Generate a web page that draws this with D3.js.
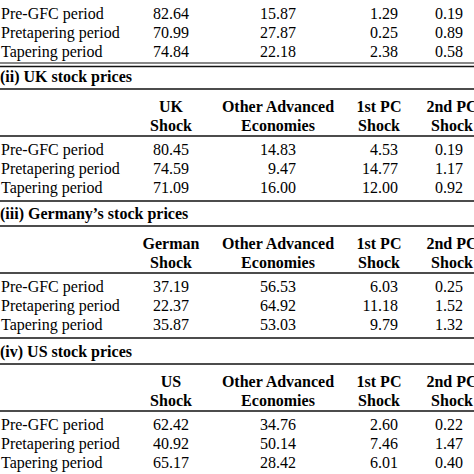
<!DOCTYPE html>
<html><head><meta charset="utf-8">
<script src="https://cdn.jsdelivr.net/npm/d3@7"></script>
<style>body{margin:0;background:#fff}</style>
</head><body>
<script>
// row labels shared by every panel
const periods = ["Pre-GFC period", "Pretapering period", "Tapering period"];

// panel (i) is cut off at the top, only its rows are visible
const topValues = [[82.64, 15.87, 1.29, 0.19], [70.99, 27.87, 0.25, 0.89], [74.84, 22.18, 2.38, 0.58]];

const ukTitle = "(ii) UK stock prices";
const ukHeader = [["UK", "Shock"], ["Other Advanced", "Economies"], ["1st PC", "Shock"], ["2nd PC", "Shock"]];
const ukValues = [[80.45, 14.83, 4.53, 0.19], [74.59, 9.47, 14.77, 1.17], [71.09, 16.00, 12.00, 0.92]];

const deTitle = "(iii) Germany\u2019s stock prices";
const deHeader = [["German", "Shock"], ["Other Advanced", "Economies"], ["1st PC", "Shock"], ["2nd PC", "Shock"]];
const deValues = [[37.19, 56.53, 6.03, 0.25], [22.37, 64.92, 11.18, 1.52], [35.87, 53.03, 9.79, 1.32]];

const usTitle = "(iv) US stock prices";
const usHeader = [["US", "Shock"], ["Other Advanced", "Economies"], ["1st PC", "Shock"], ["2nd PC", "Shock"]];
const usValues = [[62.42, 34.76, 2.60, 0.22], [40.92, 50.14, 7.46, 1.47], [65.17, 28.42, 6.01, 0.40]];

const W = 474, H = 474;
const svg = d3.select("body").append("svg").attr("width", W).attr("height", H)
  .style("font-family", "'Liberation Serif', 'DejaVu Serif', serif");

const headCx = [171, 278, 379, 452];   // header centres
const valRight = [189, 296, 398, 463]; // numbers right-aligned

function hline(y, w) {
  svg.append("line").attr("x1", 0).attr("x2", W).attr("y1", y).attr("y2", y)
    .attr("stroke", "#111").attr("stroke-width", w || 1.6);
}

function rows(values, y0) {
  const ys = d3.scalePoint().domain(d3.range(values.length)).range([y0, y0 + 38]);
  values.forEach((r, i) => {
    svg.append("text").attr("x", 1).attr("y", ys(i)).attr("dy", "0.35em")
      .attr("font-size", 16).text(periods[i]);
    r.forEach((v, j) => {
      svg.append("text").attr("x", valRight[j]).attr("y", ys(i)).attr("dy", "0.35em")
        .attr("text-anchor", "end").attr("font-size", 16).text(v.toFixed(2));
    });
  });
}

function panel(title, header, values, y0) {
  svg.append("text").attr("x", 0).attr("y", y0 + 12).attr("dy", "0.35em")
    .attr("font-size", 16).attr("font-weight", "bold").text(title);
  hline(y0 + 25);
  header.forEach((h, j) => {
    h.forEach((s, k) => {
      svg.append("text").attr("x", headCx[j]).attr("y", y0 + 42 + k * 19).attr("dy", "0.35em")
        .attr("text-anchor", "middle").attr("font-size", 16).attr("font-weight", "bold").text(s);
    });
  });
  hline(y0 + 72);
  rows(values, y0 + 85);
  hline(y0 + 137);
}

rows(topValues, 13);
hline(63, 1.2); hline(66.5, 1.6);
panel(ukTitle, ukHeader, ukValues, 64);
panel(deTitle, deHeader, deValues, 201);
panel(usTitle, usHeader, usValues, 339);
</script>
</body></html>
